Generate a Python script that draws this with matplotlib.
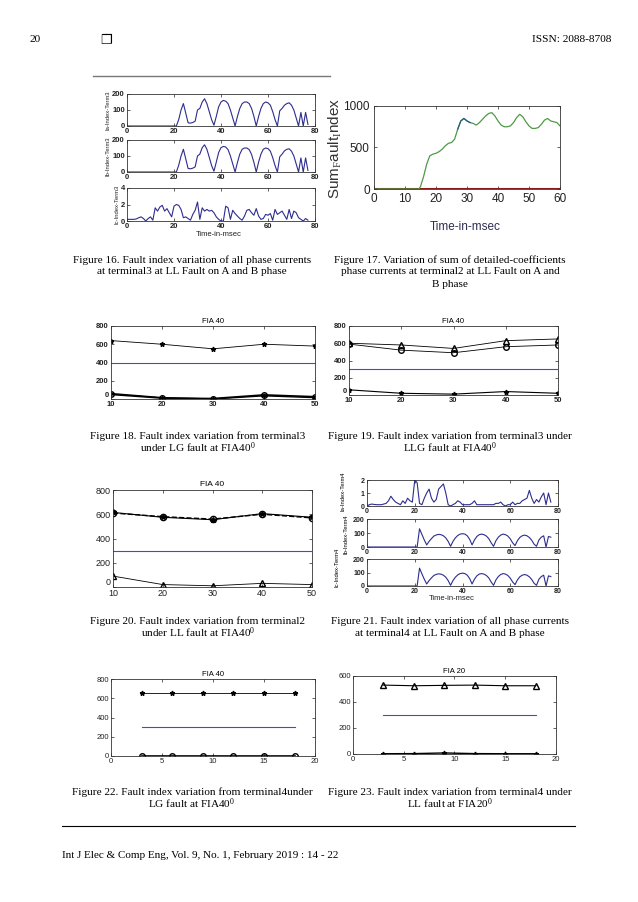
import numpy as np
import matplotlib
matplotlib.use("Agg")
import matplotlib.pyplot as plt

plt.rcParams['font.family'] = ['Liberation Sans', 'DejaVu Sans']
plt.rcParams['mathtext.fontset'] = 'custom'
plt.rcParams['mathtext.rm'] = 'Liberation Serif'
plt.rcParams['mathtext.it'] = 'Liberation Serif:italic'

# ---- data read from the page ----
t_idx = list(range(0, 78))
ia3 = [0]*21 + [0, 40, 100, 140, 80, 20, 18, 22, 30, 100, 110, 150, 170, 140, 90, 40, 5,
                60, 120, 150, 160, 155, 140, 100, 50, 0, 60, 110, 140, 150, 150, 140, 110,
                60, 0, 60, 110, 140, 150, 145, 130, 90, 40, 0, 95, 110, 130, 140, 145, 130,
                100, 50, 0, 85, 0, 85, 10]
ib3 = [0]*21 + [0, 42, 100, 142, 82, 22, 20, 24, 32, 100, 112, 152, 170, 142, 92, 40, 5,
                62, 122, 152, 160, 156, 140, 100, 50, 0, 60, 112, 142, 150, 150, 140, 110,
                60, 0, 62, 112, 142, 150, 146, 130, 90, 40, 0, 95, 112, 132, 142, 145, 130,
                100, 50, 0, 88, 0, 88, 10]
ic3 = [0.2, 0.2, 0.2, 0.2, 0.25, 0.4, 0.5, 0.3, 0.0, 0.3, 0.5, 0.1, 1.6, 1.2, 1.7, 1.9,
       1.2, 1.5, 1.0, 0.5, 1.8, 2.0, 1.9, 1.4, 0.4, 0.5, 0.3, 0.1, 0.8, 1.3, 2.3, 0.2,
       1.6, 1.2, 1.4, 1.2, 1.3, 1.0, 0.5, 0.2, 0.0, 0.0, 1.8, 1.6, 0.2, 1.3, 0.9, 0.6,
       0.3, 0.1, 0.6, 1.3, 1.4, 1.0, 0.7, 1.5, 0.6, 0.2, 0.3, 0.8, 0.7, 0.9, 0.1, 1.4,
       0.8, 1.0, 1.2, 0.7, 0.2, 1.4, 0.3, 1.2, 1.0, 0.4, 0.2, 0.0, 0.3, 0.1]

ia4 = [0.0, 0.1, 0.15, 0.12, 0.1, 0.1, 0.1, 0.15, 0.2, 0.4, 0.75, 0.5, 0.3, 0.2, 0.1, 0.4,
       0.2, 0.6, 0.4, 0.3, 2.0, 1.8, 0.2, 0.1, 0.6, 1.0, 1.3, 0.6, 0.3, 0.5, 1.3, 1.5,
       1.7, 1.0, 0.1, 0.0, 0.1, 0.2, 0.4, 0.3, 0.1, 0.1, 0.1, 0.1, 0.2, 0.4, 0.1, 0.1,
       0.1, 0.1, 0.1, 0.1, 0.1, 0.1, 0.2, 0.2, 0.3, 0.1, 0.0, 0.1, 0.1, 0.3, 0.1, 0.2,
       0.2, 0.4, 0.5, 0.6, 1.2, 0.6, 0.2, 0.5, 0.3, 0.7, 1.0, 0.1, 1.0, 0.3]
ib4 = [0]*22 + [130, 90, 50, 15, 40, 60, 78, 86, 90, 88, 80, 65, 40, 5, 40, 65, 82, 92, 95,
                92, 80, 55, 15, 50, 75, 88, 92, 88, 78, 60, 30, 5, 45, 70, 85, 92, 88, 78,
                58, 30, 10, 45, 68, 80, 85, 80, 68, 48, 20, 5, 50, 70, 80, 0, 75, 70]
ic4 = [0]*22 + [132, 90, 50, 15, 40, 60, 78, 86, 90, 88, 80, 65, 40, 5, 40, 65, 82, 92, 95,
                92, 80, 55, 15, 50, 75, 88, 92, 88, 78, 60, 30, 5, 45, 70, 85, 92, 88, 78,
                58, 30, 10, 45, 68, 80, 85, 80, 68, 48, 20, 5, 50, 70, 80, 0, 75, 70]

t_sum = [0, 14.5, 15, 16, 17, 18, 19, 20, 21, 22, 23, 24, 25, 26, 27, 28, 29, 30, 31, 32,
         33, 34, 35, 36, 37, 38, 39, 40, 41, 42, 43, 44, 45, 46, 47, 48, 49, 50, 51, 52,
         53, 54, 55, 56, 57, 58, 59, 60]
sum_fi = [0, 0, 30, 150, 300, 400, 420, 430, 450, 480, 520, 550, 560, 600, 720, 820, 850,
          820, 800, 790, 770, 800, 840, 880, 910, 920, 880, 820, 770, 750, 750, 760, 800,
          860, 900, 870, 810, 760, 730, 730, 740, 780, 830, 850, 820, 810, 800, 760]

loc5 = [10, 20, 30, 40, 50]
f18_star = [640, 600, 550, 600, 580]
f18_circ = [50, 10, 5, 45, 25]
f18_plus = [60, 15, 0, 35, 15]
f18_thr = 400

f19_tri = [600, 580, 540, 630, 650]
f19_circ = [590, 520, 490, 560, 580]
f19_star = [60, 20, 10, 40, 20]
f19_thr = 300

f20_circ = [610, 580, 560, 600, 570]
f20_star = [615, 575, 555, 605, 575]
f20_tri = [90, 20, 10, 30, 20]
f20_thr = 300

loc6 = [3, 6, 9, 12, 15, 18]
f22_star = [650, 650, 650, 650, 650, 650]
f22_circ = [3, 3, 3, 3, 3, 3]
f22_low = [0, 0, 0, 0, 0, 0]
f22_thr = 300

f23_tri = [530, 525, 528, 530, 525, 525]
f23_star = [2, 3, 8, 3, 2, 2]
f23_thr = 300

W, H = 638, 902
fig = plt.figure(figsize=(W/100, H/100), dpi=100)
fig.patch.set_facecolor('white')

def px_axes(x0, y0, x1, y1):
    return fig.add_axes([x0/W, 1 - y1/H, (x1 - x0)/W, (y1 - y0)/H])

def style(ax, fs, bold=False, lift_zero=False):
    ax.tick_params(direction='in', length=2, width=0.5, labelsize=fs, pad=1.5,
                   top=True, right=True, colors='#222222')
    for s in ax.spines.values():
        s.set_linewidth(0.6)
        s.set_color('#333333')
    if bold:
        for lb in ax.get_xticklabels() + ax.get_yticklabels():
            lb.set_fontweight('bold')
    if lift_zero:
        # MATLAB draws the y "0" a bit above the x labels at the corner
        ax.get_yticklabels()[0].set_va('bottom')

def ftext(x, y, s, **kw):
    fig.text(x/W, 1 - y/H, s, **kw)

navy = '#2d2d8f'
blue = '#4a4ab8'
serif = 'Liberation Serif'

# ---- header / footer ----
ftext(29, 40, '20', fontsize=8.2, family=serif, va='center')
ftext(100, 40, '\u2752', fontsize=9.5, family='DejaVu Sans', va='center')
ftext(611, 40, 'ISSN: 2088-8708', fontsize=8.2, family=serif, va='center', ha='right')
fig.add_artist(plt.Line2D([93/W, 330/W], [1 - 76/H, 1 - 76/H], color='#777777', lw=1.0))
fig.add_artist(plt.Line2D([62/W, 575/W], [1 - 826/H, 1 - 826/H], color='black', lw=0.8))
ftext(62, 855, 'Int J Elec & Comp Eng, Vol. 9, No. 1, February 2019 : 14 - 22',
      fontsize=8, family=serif, va='center')

# ---- Figure 16 ----
rows16 = [(94, 126, ia3, 'Ia-Index-Term3', [0, 100, 200], 200),
          (140, 172, ib3, 'Ib-Index-Term3', [0, 100, 200], 200),
          (188, 221, ic3, 'Ic-Index-Term3', [0, 2, 4], 4)]
for y0, y1, vals, lab, yt, ym in rows16:
    ax = px_axes(127, y0, 315, y1)
    ax.plot(t_idx, vals, color=navy, lw=0.8)
    ax.set_xlim(0, 80)
    ax.set_ylim(0, ym)
    ax.set_xticks([0, 20, 40, 60, 80])
    ax.set_yticks(yt)
    style(ax, 5.5, bold=True)
    ax.set_ylabel(lab, fontsize=4.2, labelpad=1, color='#222222')
ftext(219, 235, 'Time-in-msec', fontsize=5.5, ha='center', va='center', color='#222222')

# ---- Figure 17 ----
ax = px_axes(374, 106, 560, 189)
ax.plot([0, 60], [0, 0], color='#8b1a1a', lw=2.2)
ax.plot(t_sum, sum_fi, color='#4e9a45', lw=0.9)
ax.plot(t_sum[14:19], sum_fi[14:19], color='#2b5a8a', lw=0.9)
ax.set_xlim(0, 60)
ax.set_ylim(0, 1000)
ax.set_xticks(range(0, 61, 10))
ax.set_yticks([0, 500, 1000])
style(ax, 8.5)
ax.tick_params(pad=3)
ftext(465, 227, 'Time-in-msec', fontsize=8.5, ha='center', va='center', color='#2e2e4e')
ftext(335, 148, r'Sum$_{\rm F}$ault$_{\rm I}$ndex', fontsize=11, rotation=90,
      ha='center', va='center', color='#333333')

# ---- Figure 18 ----
ax = px_axes(111, 326, 315, 399)
ax.plot(loc5, f18_star, color='black', lw=0.6, marker='*', ms=3.5)
ax.axhline(f18_thr, color=blue, lw=0.8)
ax.plot(loc5, f18_circ, color='black', lw=1.2, marker='o', ms=4, mfc='none')
ax.plot(loc5, f18_plus, color='black', lw=1.0, marker='+', ms=4)
ax.set_xlim(10, 50)
ax.set_ylim(0, 800)
ax.set_xticks(loc5)
ax.set_yticks(range(0, 801, 200))
style(ax, 5.5, bold=True, lift_zero=True)
ax.set_title('FIA 40', fontsize=5.5, pad=2.5)

# ---- Figure 19 ----
ax = px_axes(349, 326, 558, 395)
ax.plot(loc5, f19_tri, color='black', lw=0.6, marker='^', ms=4, mfc='none')
ax.plot(loc5, f19_circ, color='black', lw=0.6, marker='o', ms=4, mfc='none')
ax.axhline(f19_thr, color=blue, lw=0.8)
ax.plot(loc5, f19_star, color='black', lw=0.8, marker='*', ms=3.5)
ax.set_xlim(10, 50)
ax.set_ylim(0, 800)
ax.set_xticks(loc5)
ax.set_yticks(range(0, 801, 200))
style(ax, 5.5, bold=True, lift_zero=True)
ax.set_title('FIA 40', fontsize=5.5, pad=2.5)

# ---- Figure 20 ----
ax = px_axes(113, 490, 312, 587)
ax.plot(loc5, f20_circ, color='black', lw=1.0, ls='--', marker='o', ms=4.5, mfc='none')
ax.plot(loc5, f20_star, color='black', lw=0.8, marker='*', ms=4)
ax.axhline(f20_thr, color=blue, lw=0.8)
ax.plot(loc5, f20_tri, color='black', lw=0.6, marker='^', ms=4.5, mfc='none')
ax.set_xlim(10, 50)
ax.set_ylim(0, 800)
ax.set_xticks(loc5)
ax.set_yticks(range(0, 801, 200))
style(ax, 6.5, lift_zero=True)
ax.set_title('FIA 40', fontsize=6, pad=3)

# ---- Figure 21 ----
rows21 = [(480, 506, ia4, [0, 1, 2], 2),
          (519, 547, ib4, [0, 100, 200], 200),
          (559, 586, ic4, [0, 100, 200], 200)]
for y0, y1, vals, yt, ym in rows21:
    ax = px_axes(367, y0, 558, y1)
    ax.plot(t_idx, vals, color=navy, lw=0.8)
    ax.set_xlim(0, 80)
    ax.set_ylim(0, ym)
    ax.set_xticks([0, 20, 40, 60, 80])
    ax.set_yticks(yt)
    style(ax, 5, bold=True)
ftext(343, 491, 'Ia-Index-Term4', fontsize=4.2, rotation=90, ha='center', va='center')
ftext(346, 534, 'Ib-Index-Term4', fontsize=4.2, rotation=90, ha='center', va='center')
ftext(337, 567, 'Ic-Index-Term4', fontsize=4.2, rotation=90, ha='center', va='center')
ftext(452, 598, 'Time-in-msec', fontsize=5.5, ha='center', va='center', color='#222222')

# ---- Figure 22 ----
ax = px_axes(111, 679, 315, 756)
ax.plot(loc6, f22_star, color='black', lw=0.6, marker='*', ms=3.5)
ax.plot(loc6, [f22_thr]*6, color=blue, lw=0.8)
ax.plot(loc6, f22_low, color='black', lw=1.2)
ax.plot(loc6, f22_circ, color='black', lw=0.6, marker='o', ms=4, mfc='none')
ax.set_xlim(0, 20)
ax.set_ylim(0, 800)
ax.set_xticks(range(0, 21, 5))
ax.set_yticks(range(0, 801, 200))
style(ax, 5.5)
ax.set_title('FIA 40', fontsize=5.5, pad=2.5)

# ---- Figure 23 ----
ax = px_axes(353, 676, 556, 754)
ax.plot(loc6, f23_tri, color='black', lw=0.8, marker='^', ms=4, mfc='none')
ax.plot(loc6, [f23_thr]*6, color=blue, lw=0.8)
ax.plot(loc6, f23_star, color='black', lw=1.0, marker='*', ms=3.5)
ax.set_xlim(0, 20)
ax.set_ylim(0, 600)
ax.set_xticks(range(0, 21, 5))
ax.set_yticks(range(0, 601, 200))
style(ax, 5.5)
ax.set_title('FIA 20', fontsize=5.5, pad=2.5)

# ---- captions ----
captions = [
    (192, [260, 272], ['Figure 16. Fault index variation of all phase currents',
                       'at terminal3 at LL Fault on A and B phase']),
    (450, [260, 272, 284], ['Figure 17. Variation of sum of detailed-coefficients',
                            'phase currents at terminal2 at LL Fault on A and',
                            'B phase']),
    (198, [436, 448], ['Figure 18. Fault index variation from terminal3',
                       'under LG fault at FIA40$^0$']),
    (450, [436, 448], ['Figure 19. Fault index variation from terminal3 under',
                       'LLG fault at FIA40$^0$']),
    (198, [621, 633], ['Figure 20. Fault index variation from terminal2',
                       'under LL fault at FIA40$^0$']),
    (450, [621, 633], ['Figure 21. Fault index variation of all phase currents',
                       'at terminal4 at LL Fault on A and B phase']),
    (192, [792, 804], ['Figure 22. Fault index variation from terminal4under',
                       'LG fault at FIA40$^0$']),
    (450, [792, 804], ['Figure 23. Fault index variation from terminal4 under',
                       'LL fault at FIA20$^0$']),
]
for cx, ys, lines in captions:
    for y, s in zip(ys, lines):
        ftext(cx, y, s, fontsize=8.1, family=serif, ha='center', va='center')

fig.savefig('out.png', dpi=100, facecolor='white')
